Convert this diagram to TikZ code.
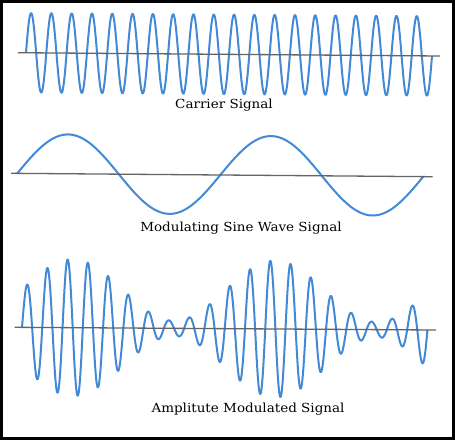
\documentclass[tikz,border=0pt]{standalone}
\usepackage{fontspec}
\setmainfont{DejaVu Serif}
\definecolor{wavecol}{RGB}{66,137,214}
\definecolor{axiscol}{RGB}{100,100,100}
\begin{document}
\begin{tikzpicture}[x=1pt,y=-1pt,
  wave/.style={draw=wavecol,line width=2pt,line join=round},
  axisline/.style={draw=axiscol,line width=1.3pt},
  caption/.style={anchor=base,inner sep=0pt,font=\fontsize{12.5}{14}\selectfont}]
\useasboundingbox (0,0) rectangle (455,440);
\fill[white] (0,0) rectangle (455,440);
% carrier
\draw[wave] plot[domain=26:432,samples=1200] (\x,{52.7+0.0078*(\x-18)-39.7*sin(17.734*(\x-26))});
\draw[axisline] (18,52.7) -- (440,56);
\node[caption] (c1) at (224,108.3) {\scalebox{1.08}[1]{Carrier Signal}};
% modulating
\draw[wave] plot[domain=17.3:423.3,samples=400] (\x,{173.3+0.008*(\x-11)-39.3*sin(1.7734*(\x-17.3))});
\draw[axisline] (11,173.3) -- (432.7,176.7);
\node[caption] (c2) at (241,231.3) {\scalebox{1.08}[1]{Modulating Sine Wave Signal}};
% AM
\draw[wave] plot[domain=22:427.4,samples=1400] (\x,{327.3+0.0064*(\x-14.7)-38*(1+0.8*sin(1.77602*(\x-22)))*sin(17.7602*(\x-22))});
\draw[axisline] (14.7,327.3) -- (436,330);
\node[caption] (c3) at (248,412.7) {\scalebox{1.08}[1]{Amplitute Modulated Signal}};
% frame
\draw[line width=2.8pt] (1.4,1.4) rectangle (453.6,438.3);
\end{tikzpicture}
\end{document}
